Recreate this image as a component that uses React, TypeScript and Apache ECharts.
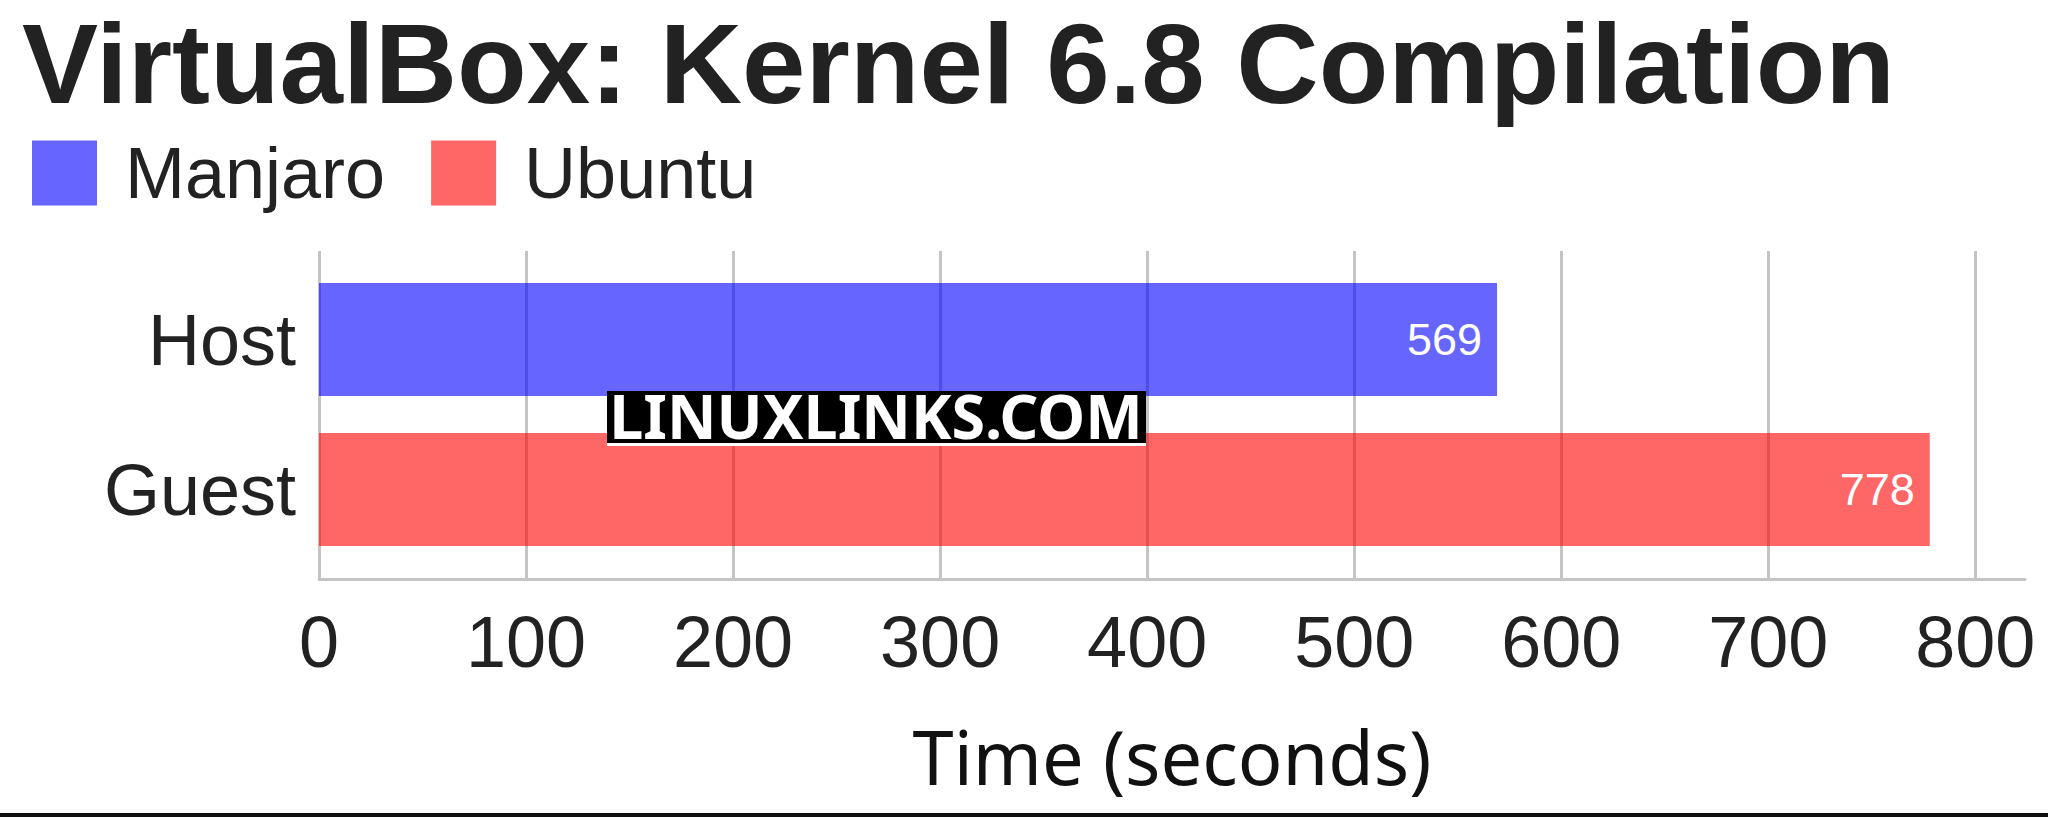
import React, { useEffect, useRef } from "react";
import * as echarts from "echarts";

// chart data
const categories = ["Host", "Guest"];
const seriesNames = ["Manjaro", "Ubuntu"];
const manjaroTimes = [569, null];
const ubuntuTimes = [null, 778];
const axisMax = 824;
const tickStep = 100;

const SANS = "'Liberation Sans', Arial, sans-serif";
const NOTO = "'Noto Sans', sans-serif";

const App: React.FC = () => {
  const chartRef = useRef<HTMLDivElement>(null);

  useEffect(() => {
    if (!chartRef.current) return;
    const myChart = echarts.init(chartRef.current, null, { renderer: "svg" });

    const option: any = {
      animation: false,
      backgroundColor: "#ffffff",
      title: {
        text: "VirtualBox: Kernel 6.8 Compilation",
        left: 22,
        top: 19,
        padding: 0,
        textStyle: {
          fontFamily: SANS,
          fontWeight: "bold",
          fontSize: 114,
          lineHeight: 88,
          color: "#222222",
        },
      },
      legend: {
        data: seriesNames,
        left: 32,
        top: 137,
        padding: 0,
        itemWidth: 65,
        itemHeight: 65,
        itemGap: 46,
        icon: "rect",
        textStyle: {
          fontFamily: SANS,
          fontSize: 72,
          color: "#222222",
          padding: [0, 0, 0, 23],
        },
      },
      grid: [
        // bars
        { left: 319, right: 23, top: 264.5, height: 300, outerBoundsMode: "none" },
        // grid lines, ticks and axis name
        { left: 319, right: 23, top: 251, height: 328, outerBoundsMode: "none" },
      ],
      xAxis: [
        {
          type: "value",
          gridIndex: 0,
          min: 0,
          max: axisMax,
          show: false,
        },
        {
          type: "value",
          gridIndex: 1,
          min: 0,
          max: axisMax,
          interval: tickStep,
          name: "Time (seconds)",
          nameLocation: "middle",
          nameGap: 140,
          nameTextStyle: {
            fontFamily: NOTO,
            fontSize: 74,
            color: "#111111",
          },
          axisLine: {
            show: true,
            lineStyle: { color: "#c4c4c4", width: 3 },
          },
          axisTick: { show: false },
          axisLabel: {
            showMaxLabel: false,
            margin: 27,
            fontFamily: SANS,
            fontSize: 72,
            color: "#222222",
          },
          splitLine: {
            show: true,
            showMaxLine: false,
            lineStyle: { color: "#c4c4c4", width: 3 },
          },
        },
      ],
      yAxis: [
        {
          type: "category",
          gridIndex: 0,
          data: categories,
          inverse: true,
          axisLine: { show: false },
          axisTick: { show: false },
          splitLine: { show: false },
          axisLabel: {
            margin: 23,
            fontFamily: SANS,
            fontSize: 72,
            color: "#222222",
          },
        },
        {
          type: "value",
          gridIndex: 1,
          show: false,
        },
      ],
      series: [
        {
          name: seriesNames[0],
          type: "bar",
          stack: "all",
          xAxisIndex: 0,
          yAxisIndex: 0,
          barWidth: 113,
          data: manjaroTimes,
          itemStyle: { color: "rgba(0,0,255,0.6)" },
          label: {
            show: true,
            position: "insideRight",
            distance: 15,
            fontFamily: SANS,
            fontSize: 45,
            color: "#ffffff",
          },
        },
        {
          name: seriesNames[1],
          type: "bar",
          stack: "all",
          xAxisIndex: 0,
          yAxisIndex: 0,
          barWidth: 113,
          data: ubuntuTimes,
          itemStyle: { color: "rgba(255,0,0,0.6)" },
          label: {
            show: true,
            position: "insideRight",
            distance: 15,
            fontFamily: SANS,
            fontSize: 45,
            color: "#ffffff",
          },
        },
      ],
      graphic: [
        {
          type: "group",
          z: 100,
          children: [
            {
              type: "rect",
              shape: { x: 607, y: 391, width: 539, height: 55 },
              style: { fill: "#ffffff" },
              z: 100,
            },
            {
              type: "rect",
              shape: { x: 607, y: 391, width: 539, height: 52 },
              style: { fill: "#000000" },
              z: 101,
            },
            {
              type: "text",
              x: 876,
              y: 415,
              z: 102,
              style: {
                text: "LINUXLINKS.COM",
                fontFamily: NOTO,
                fontWeight: "bold",
                fontSize: 61,
                fill: "#ffffff",
                textAlign: "center",
                textVerticalAlign: "middle",
              },
            },
          ],
        },
        {
          type: "rect",
          z: 100,
          shape: { x: 0, y: 813, width: 2048, height: 4 },
          style: { fill: "#111111" },
        },
      ],
    };

    myChart.setOption(option);

    return () => {
      myChart.dispose();
    };
  }, []);

  return (
    <div
      ref={chartRef}
      style={{
        position: "fixed",
        left: 0,
        top: 0,
        width: "2048px",
        height: "818px",
        margin: 0,
        padding: 0,
      }}
    />
  );
};

export default App;
